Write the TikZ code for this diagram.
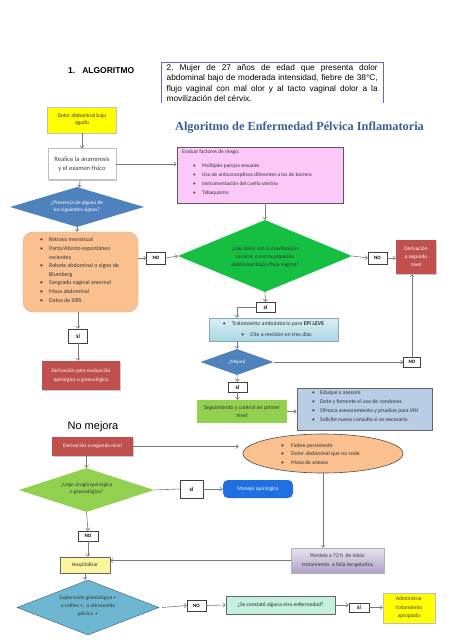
\documentclass[tikz,border=0pt]{standalone}
\usepackage{fontspec}
\setmainfont{Carlito}
\newfontfamily\arialf{Liberation Sans}
\newfontfamily\serifb{Liberation Serif}
\usetikzlibrary{shapes.geometric,arrows.meta,shadows}
\frenchspacing
\definecolor{casecol}{HTML}{6B63C8}
\definecolor{titleblue}{HTML}{365F91}
\definecolor{yellowA}{HTML}{FFFF00}
\definecolor{pinkF}{HTML}{FBC8F8}
\definecolor{blueD}{HTML}{4F81BD}
\definecolor{orangeF}{HTML}{FAC090}
\definecolor{greenD}{HTML}{14BF41}
\definecolor{redF}{HTML}{C0504D}
\definecolor{lbtop}{HTML}{DCEFF5}
\definecolor{lbbot}{HTML}{A9D6E4}
\definecolor{greenL}{HTML}{92D050}
\definecolor{bgF}{HTML}{B9CDE5}
\definecolor{mqF}{HTML}{1E6FE0}
\definecolor{hospF}{HTML}{FAF59E}
\definecolor{purtop}{HTML}{E8E2EF}
\definecolor{purbot}{HTML}{B2A1C7}
\definecolor{aquaF}{HTML}{6CB6CF}
\definecolor{mintF}{HTML}{C4F0DE}
\definecolor{txtc}{HTML}{333333}
\definecolor{linec}{HTML}{7A7A7A}
\newcommand\bl[1]{\makebox[9pt][l]{\textbullet}#1}
\newcommand\bls[1]{\makebox[8pt][l]{\textbullet}#1}
\begin{document}
\begin{tikzpicture}[x=1pt,y=-1pt,
  shad/.style={drop shadow={shadow xshift=1pt,shadow yshift=-1pt,opacity=0.35,fill=black!60}},
  bx/.style={rectangle,inner sep=1pt,align=center,text=txtc,font=\fontsize{5.5}{7}\selectfont},
  lab/.style={rectangle,draw=black!75,fill=white,line width=0.5pt,inner sep=0pt,text=black,font=\bfseries\fontsize{5}{6}\selectfont},
  dia/.style={diamond,inner sep=0pt},
  dtxt/.style={inner sep=0pt,align=center,font=\fontsize{5.3}{6.8}\selectfont},
  conn/.style={draw=linec,line width=0.6pt,-{Straight Barb[length=2.2pt,width=4pt]}},
  plainln/.style={draw=linec,line width=0.6pt},
  lst/.style={anchor=north west,inner sep=0pt,align=left,text=txtc}]
\fill[white] (0,0) rectangle (453,640);
\useasboundingbox (0,0) rectangle (453,640);

% header
\node[anchor=west,inner sep=0,font=\arialf\bfseries\fontsize{8.5}{10}\selectfont] (algo) at (68,71) {1.\hspace{7pt}ALGORITMO};
\draw[casecol,line width=0.8pt] (161,103) -- (161,62) -- (383,62) -- (383,103);
\node[anchor=north west,inner sep=0,text width=211pt,align=justify,font=\arialf\fontsize{8.3}{10.2}\selectfont] (case) at (166.5,64.5)
 {2. Mujer de 27 años de edad que presenta dolor\linebreak abdominal bajo de moderada intensidad, fiebre de 38°C,\linebreak flujo vaginal con mal olor y al tacto vaginal dolor a la\linebreak movilización del cérvix.};

\node[inner sep=0,text=titleblue,font=\serifb\bfseries\fontsize{12.3}{14}\selectfont] (title) at (299.5,128) {Algoritmo de Enfermedad Pélvica Inflamatoria};

% top-left
\node[bx,fill=yellowA,draw=black!25,minimum width=69pt,minimum height=26pt] (dolor) at (82,120) {Dolor abdominal bajo\\agudo};
\node[bx,fill=white,draw=black!25,shad,minimum width=68pt,minimum height=31pt,text=black!75,font=\fontsize{6.6}{9.5}\selectfont] (anam) at (82,164) {Realice la anamnesis\\y el examen físico};

\node[rectangle,fill=pinkF,draw=black!65,line width=0.6pt,minimum width=166pt,minimum height=56pt] (pink) at (260,175) {};
\node[lst,font=\fontsize{5.4}{9}\selectfont] (pinkt) at (182,150) {Evaluar factores de riesgo:\\[4.5pt]
 \hspace*{11pt}\bl{Múltiples parejas sexuales}\\
 \hspace*{11pt}\bl{Uso de anticonceptivos diferentes a los de barrera}\\
 \hspace*{11pt}\bl{Instrumentación del cuello uterino}\\
 \hspace*{11pt}\bl{Tabaquismo}};

% diamond 1
\node[dia,fill=blueD,minimum width=134pt,minimum height=40pt] (d1) at (77,207) {};
\node[dtxt,text=white] (d1t) at (d1) {¿Presencia de alguno de\\los siguientes signos?};

\node[rectangle,rounded corners=10pt,fill=orangeF,draw=orangeF!85!black,line width=0.3pt,minimum width=115pt,minimum height=80pt] (orange) at (80.5,272) {};
\node[lst,font=\fontsize{5.9}{8.6}\selectfont] (oranget) at (40,237.5) {\bl{Retraso menstrual}\\
 \bl{Parto/Aborto espontáneo}\\ \hspace*{9pt}recientes\\
 \bl{Rebote abdominal o signo de}\\ \hspace*{9pt}Blumberg\\
 \bl{Sangrado vaginal anormal}\\ \bl{Masa abdominal}\\ \bl{Datos de SIRS}};

\node[lab,minimum width=19pt,minimum height=12pt] (no1) at (156,258) {NO};

% green diamond
\node[dia,fill=greenD,minimum width=174pt,minimum height=72pt] (d2) at (265,256) {};
\node[dtxt,text=txtc,font=\fontsize{5.4}{8}\selectfont] (d2t) at (265,257) {¿Hay dolor con la movilización\\cervical, o con la palpación\\abdominal baja y flujo vaginal?};

\node[lab,minimum width=19pt,minimum height=12pt] (no2) at (377.5,258) {NO};
\node[bx,fill=redF,shad,text=white,minimum width=40pt,minimum height=34pt,font=\fontsize{5.4}{8}\selectfont] (red1) at (416,257) {Derivación\\a segundo\\nivel};

\node[lab,minimum width=19pt,minimum height=10pt] (si1) at (265.5,307) {SÍ};
\coordinate (c1) at (237,307);

\node[rectangle,top color=lbtop,bottom color=lbbot,draw=lbbot!80!black,line width=0.3pt,shad,minimum width=129pt,minimum height=23pt,inner sep=0pt,align=center,text=txtc,font=\fontsize{5.8}{11}\selectfont] (lb) at (273.5,329.5)
 {\bl{Tratamiento ambulatorio para \textbf{EPI LEVE}}\\ \hspace*{6pt}\bl{Cite a revisión en tres días}};

\node[dia,fill=blueD,minimum width=73pt,minimum height=26pt] (d3) at (237,362) {};
\node[dtxt,text=white,font=\fontsize{5}{6}\selectfont] (d3t) at (d3) {¿Mejoró};

\node[lab,minimum width=17pt,minimum height=10pt] (no3) at (412,362) {NO};
\node[lab,minimum width=19pt,minimum height=10pt] (si2) at (237.5,387) {SÍ};
\node[bx,fill=greenL,minimum width=90pt,minimum height=23pt,font=\fontsize{5.8}{8.5}\selectfont] (green2) at (242,411.5) {Seguimiento y control en primer\\nivel};

\node[rectangle,fill=bgF,draw=black!60,line width=0.6pt,minimum width=135pt,minimum height=42pt] (bg) at (364.5,409) {};
\node[lst,font=\fontsize{5.7}{9.2}\selectfont] (bgt) at (312,390) {\bls{Eduque y asesore}\\ \bls{Dote y fomente el uso de condones}\\ \bls{Ofrezca asesoramiento y pruebas para VIH}\\ \bls{Solicite nueva consulta si es necesario}};

% left column
\node[lab,minimum width=19pt,minimum height=14pt] (si3) at (78,336) {SÍ};
\node[bx,fill=redF,shad,text=white,minimum width=78pt,minimum height=29pt,font=\fontsize{5.4}{8.5}\selectfont] (red2) at (81,375.5) {Derivación para evaluación\\quirúrgica o ginecológica};

\node[inner sep=0,font=\arialf\fontsize{11}{13}\selectfont] (nomej) at (93,427) {No mejora};

\node[bx,fill=redF,shad,text=white,minimum width=81pt,minimum height=19pt,font=\fontsize{5.4}{7}\selectfont] (red3) at (92.5,446.5) {Derivación a segundo nivel};

\node[ellipse,fill=orangeF,draw=black!70,line width=0.6pt,minimum width=160pt,minimum height=39pt,inner sep=0pt] (ell) at (323,453.5) {};
\node[lst,font=\fontsize{5.7}{8.5}\selectfont] (ellt) at (281,443) {\makebox[10pt][l]{\textbullet}Fiebre persistente\\ \makebox[10pt][l]{\textbullet}Dolor abdominal que no cede\\ \makebox[10pt][l]{\textbullet}Masa de anexos};

\node[dia,fill=greenL,minimum width=135pt,minimum height=44pt] (d4) at (86.5,490) {};
\node[dtxt,text=txtc] (d4t) at (86.5,489) {¿Urge cirugía quirúrgica\\o ginecológica?};

\node[lab,minimum width=23pt,minimum height=18pt] (si4) at (191.5,489) {SÍ};
\node[bx,fill=mqF,text=white,rounded corners=5pt,minimum width=70pt,minimum height=18pt] (mq) at (258,489) {Manejo quirúrgico};

\node[lab,minimum width=20pt,minimum height=10pt] (no4) at (88,536) {NO};
\node[bx,fill=hospF,draw=black!60,line width=0.5pt,minimum width=50pt,minimum height=16pt] (hosp) at (85,565) {Hospitalizar};

\node[bx,top color=purtop,bottom color=purbot,draw=black!30,shad,minimum width=93pt,minimum height=25pt,font=\fontsize{5.6}{8.5}\selectfont] (purple) at (337.5,560.5) {Persiste a 72 h~ de inicio\\tratamiento~ o falla terapéutica};

\node[dia,fill=aquaF,draw=blueD!70!black,line width=0.4pt,minimum width=142pt,minimum height=55pt] (d5) at (88,607.5) {};
\node[dtxt,text=txtc,font=\fontsize{5.3}{8}\selectfont] (d5t) at (88,606.5) {Exploración ginecológica +\\o cultivo +,~ o ultrasonido\\pélvico~ +};

\node[lab,minimum width=19pt,minimum height=11pt] (no5) at (196.5,605.5) {NO};
\node[bx,fill=mintF,draw=black!60,line width=0.5pt,minimum width=109pt,minimum height=18pt,text=black!85] (teal) at (280.5,605) {¿Se constató alguna otra enfermedad?};
\node[lab,minimum width=20pt,minimum height=9pt] (si5) at (359,607.5) {SÍ};
\node[bx,fill=yellowA,draw=black!25,minimum width=52pt,minimum height=30pt,text=black!70!yellow!40!black,font=\fontsize{5.5}{8.5}\selectfont] (yel) at (409,608) {Administrar\\tratamiento\\apropiado};

% connectors
\draw[conn] (dolor) -- (anam);
\draw[conn] (anam.east) -- (anam.east -| pink.west);
\draw[conn] (anam) -- (d1);
\draw[conn] (d2.north |- pink.south) -- (d2.north);
\draw[conn] (d1.south) -- (d1.south |- orange.north);
\draw[conn] (orange.east |- no1.west) -- (no1.west);
\draw[conn] (no1.east) -- (d2.west);
\draw[conn] (d2.east) -- (no2.west);
\draw[conn] (no2.east) -- (no2.east -| red1.west);
\draw[conn] (d2.south) -- (si1.north);
\draw[conn] (si1.west) -- (c1) -- (c1 |- lb.north);
\draw[conn] (d3.north |- lb.south) -- (d3.north);
\draw[conn] (d3.east) -- (no3.west);
\draw[conn] (no3.north) -- (no3.north |- red1.south);
\draw[conn] (d3.south) -- (si2.north);
\draw[conn] (si2.south) -- (si2.south |- green2.north);
\draw[conn] (green2.east) -- (green2.east -| bg.west);
\draw[conn] (si3.north |- orange.south) -- (si3.north);
\draw[conn] (si3.south) -- (si3.south |- red2.north);
\draw[conn] (red3.east) -- ([xshift=-4pt]red3.east -| ell.west);
\draw[conn] (d4.north |- red3.south) -- (d4.north);
\draw[plainln] (d4.east) -- (si4.west);
\draw[conn] (si4.east) -- (mq.west);
\draw[conn] (d4.south) -- (no4.north);
\draw[conn] (no4.south) -- (no4.south |- hosp.north);
\draw[conn] (ell.south) -- (ell.south |- purple.north);
\draw[conn] (purple.west) -- (purple.west -| hosp.east);
\draw[conn] (hosp.south) -- (hosp.south |- d5.north);
\draw[conn] ([xshift=3pt]d5.east) -- (no5.west);
\draw[conn] (no5.east) -- (teal.west);
\draw[conn] (teal.east) -- (teal.east -| si5.west);
\draw[conn] (si5.east) -- (si5.east -| yel.west);
\end{tikzpicture}
\end{document}
